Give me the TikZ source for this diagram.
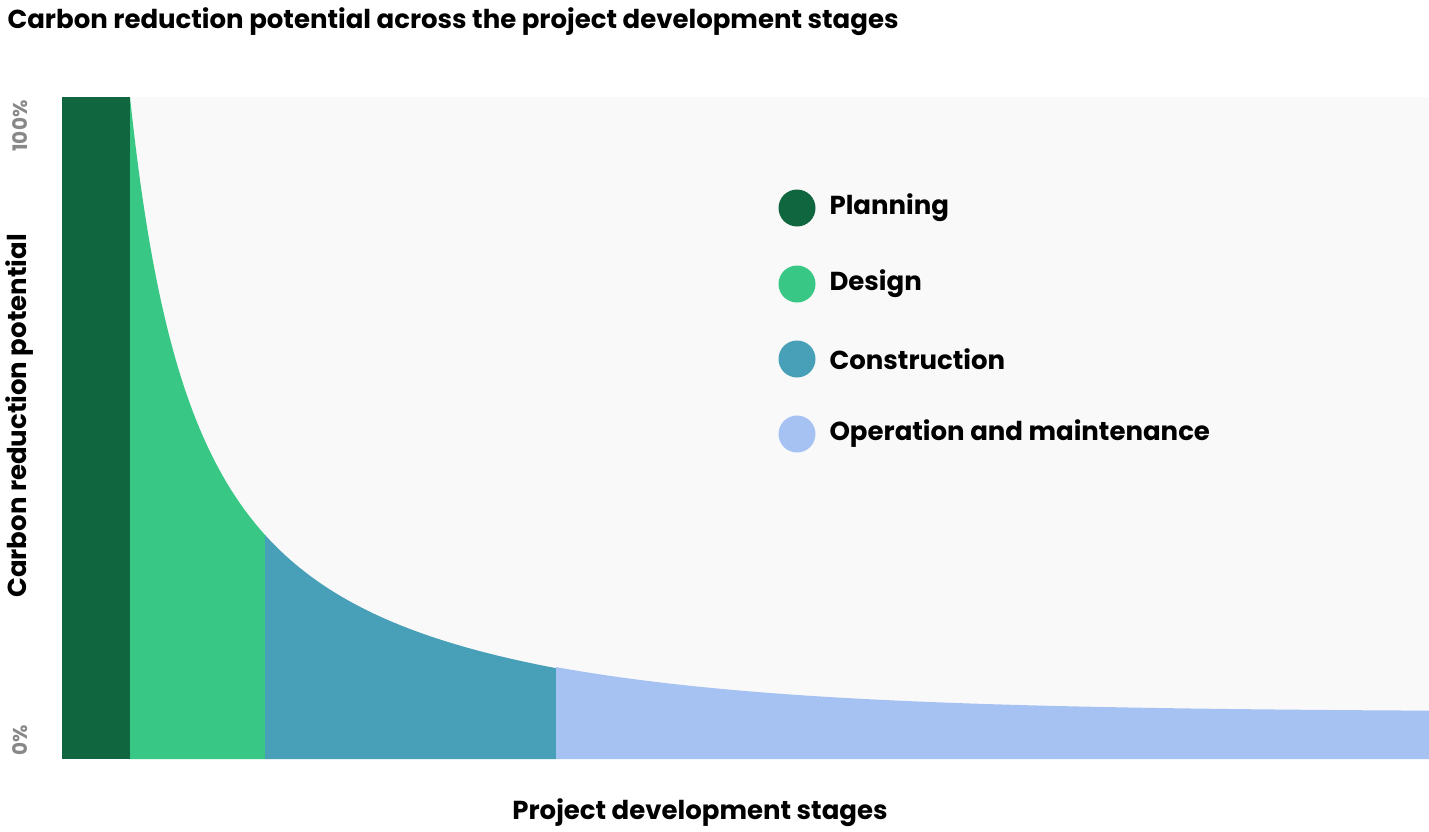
\documentclass[tikz,border=0pt]{standalone}
\usepackage{fontspec}
\setmainfont{Poppins}
\definecolor{bg}{HTML}{F9F9F9}
\definecolor{plan}{HTML}{10673F}
\definecolor{des}{HTML}{38C785}
\definecolor{cons}{HTML}{479FB8}
\definecolor{oper}{HTML}{A5C2F3}
\definecolor{tick}{HTML}{888888}
\tikzset{leg/.style={circle,minimum size=37pt,inner sep=0pt},
legtxt/.style={anchor=west,font=\fontsize{26}{30}\selectfont\bfseries},
lab/.style={font=\fontsize{26}{30}\selectfont\bfseries}}
\begin{document}
\begin{tikzpicture}[x=1pt,y=-1pt]
\useasboundingbox[fill=white] (0,0) rectangle (1429,832);
\fill[bg] (62,97) rectangle (1429,759);
\fill[plan] (62,97) rectangle (130,759);
\fill[des] (130,759) -- plot[domain=130:265,samples=80] (\x,{759-(465.56*(100/(\x-60))-3)}) -- (265,759) -- cycle;
\fill[cons] (265,759) -- plot[domain=265:556,samples=60] (\x,{759-(465.56*(100/(\x-60))-3)}) -- (556,759) -- cycle;
\fill[oper] (556,759) -- plot[domain=556:1429,samples=80] (\x,{759-(47+44.9*exp(-(\x-556)/249))}) -- (1429,759) -- cycle;
\node[lab,anchor=west] (title) at (4,22) {Carbon reduction potential across the project development stages};
\node[lab,rotate=90] (ylab) at (20,416) {Carbon reduction potential};
\node[lab] (xlab) at (700,813) {Project development stages};
\node[rotate=90,anchor=east,text=tick,font=\fontsize{20}{24}\selectfont\bfseries] (t100) at (20,97) {100\%};
\node[rotate=90,anchor=west,text=tick,font=\fontsize{20}{24}\selectfont\bfseries] (t0) at (20,759) {0\%};
\node[leg,fill=plan] (l1) at (797,208) {};
\node[leg,fill=des] (l2) at (797,284) {};
\node[leg,fill=cons] (l3) at (797,359) {};
\node[leg,fill=oper] (l4) at (797,434) {};
\node[legtxt] at (826,208) {Planning};
\node[legtxt] at (826,284) {Design};
\node[legtxt] at (826,359) {Construction};
\node[legtxt] at (826,434) {Operation and maintenance};
\end{tikzpicture}
\end{document}
